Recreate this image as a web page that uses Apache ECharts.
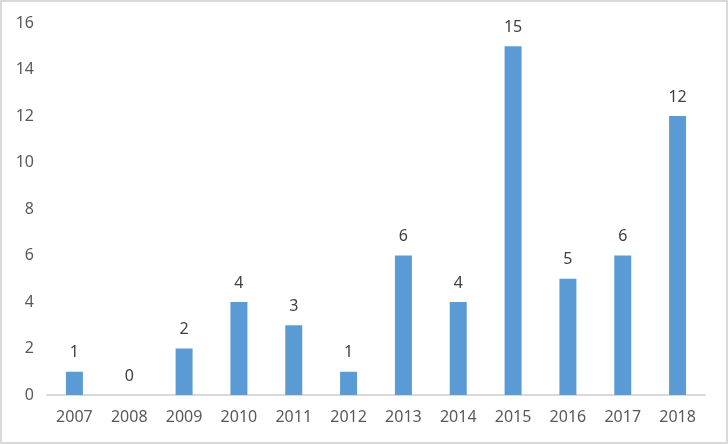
<!DOCTYPE html>
<html>
<head>
<meta charset="utf-8">
<script src="https://cdn.jsdelivr.net/npm/echarts@6/dist/echarts.min.js"></script>
<style>
  html, body { margin: 0; padding: 0; background: #fff; }
  #chart { width: 728px; height: 444px; }
</style>
</head>
<body>
<div id="chart"></div>
<script>
const years = ['2007', '2008', '2009', '2010', '2011', '2012', '2013', '2014', '2015', '2016', '2017', '2018'];
const counts = [1, 0, 2, 4, 3, 1, 6, 4, 15, 5, 6, 12];
const yTicks = [0, 2, 4, 6, 8, 10, 12, 14, 16];

const chart = echarts.init(document.querySelector('#chart'), null, {renderer: 'canvas'});

const font = '"Noto Sans", "Liberation Sans", sans-serif';

chart.setOption({
    animation: false,
    graphic: [{
        type: 'rect',
        shape: {x: 1, y: 1, width: 726, height: 442},
        style: {fill: 'none', stroke: '#d9d9d9', lineWidth: 2},
        silent: true
    }],
    grid: {
        left: 47,
        right: 23,
        top: 23,
        bottom: 49
    },
    xAxis: {
        type: 'category',
        data: years,
        axisLine: {lineStyle: {color: '#d9d9d9', width: 2}},
        axisTick: {show: false},
        axisLabel: {color: '#595959', fontSize: 16, fontFamily: font, margin: 14}
    },
    yAxis: {
        type: 'value',
        min: yTicks[0],
        max: yTicks[yTicks.length - 1],
        interval: 2,
        axisLine: {show: false},
        axisTick: {show: false},
        splitLine: {show: false},
        axisLabel: {color: '#595959', fontSize: 16, fontFamily: font, margin: 13}
    },
    series: [{
        type: 'bar',
        data: counts,
        barWidth: 17,
        itemStyle: {color: '#5b9bd5'},
        label: {
            show: true,
            position: 'top',
            distance: 11,
            color: '#404040',
            fontSize: 16,
            fontFamily: font
        }
    }]
});
</script>
</body>
</html>
